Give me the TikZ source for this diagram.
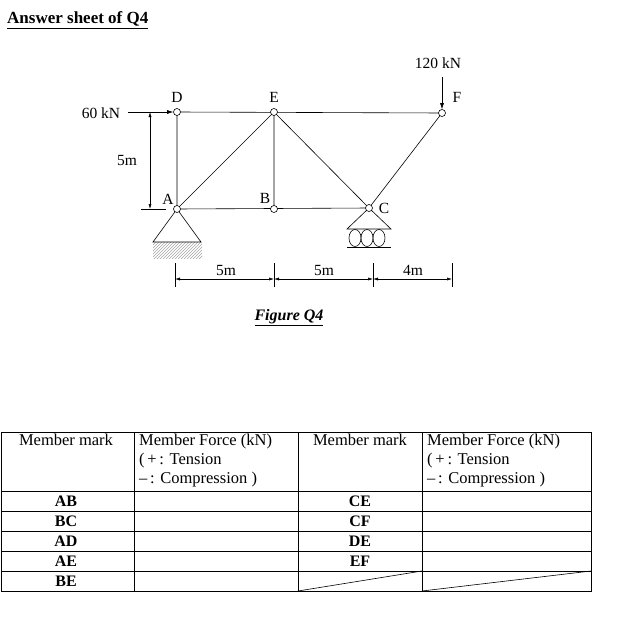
\documentclass[tikz,border=0pt]{standalone}
\usepackage{fontspec}
\setmainfont{Liberation Serif}
\usetikzlibrary{patterns,arrows.meta}
\begin{document}
\begin{tikzpicture}[x=1pt,y=-1pt,font=\fontsize{15.5}{18}\selectfont,
  mem/.style={line width=0.6pt},
  joint/.style={circle,draw,fill=white,inner sep=0pt,minimum size=7pt,line width=0.6pt},
  dim/.style={line width=0.5pt},
  arr/.style={-{Latex[length=6pt,width=4pt]},line width=0.6pt},
  lbl/.style={inner sep=0pt},
  cell/.style={inner sep=0pt,font=\fontsize{16.5}{19}\selectfont}]
\useasboundingbox (0,0) rectangle (618,626);
\node[lbl,anchor=west,font=\bfseries\fontsize{17}{19}\selectfont] (title) at (7,20) {\underline{Answer sheet of Q4}};
\coordinate (A) at (177,209); \coordinate (B) at (274,209); \coordinate (C) at (369,208);
\coordinate (D) at (177,112); \coordinate (E) at (274,112); \coordinate (F) at (442,113);
% supports
\fill[pattern=north east lines,pattern color=gray!70] (153,242) rectangle (202,258);
\draw[mem] (A) -- (153,242) -- (201,242) -- cycle;
\draw[mem] (C) -- (347,229) -- (391,229) -- cycle;
\foreach \x in {355,367,379} \draw[mem] (\x,238) ellipse (6 and 8.5);
\draw[mem] (347,247) -- (391,247);
% members
\draw[mem] (D) -- (F) (A) -- (C) (A) -- (D) (A) -- (E) (E) -- (B) (E) -- (C) (C) -- (F);
\foreach \p in {A,B,C,D,E,F} \node[joint] (j\p) at (\p) {};
\node[lbl] (lD) at (177,97) {D}; \node[lbl] (lE) at (274,97) {E}; \node[lbl] (lF) at (457,97) {F};
\node[lbl] (lA) at (168,199) {A}; \node[lbl] (lB) at (265,198) {B}; \node[lbl] (lC) at (384,208) {C};
% loads
\node[lbl] (l60) at (101,113) {60 kN};
\coordinate (s60) at (128,112);
\draw[arr] (s60) -- (jD);
\node[lbl] (l120) at (438,63) {120 kN};
\coordinate (s120) at (442,77);
\draw[arr] (s120) -- (jF);
% left dimension
\draw[dim] (141,209) -- (166,209);
\draw[dim,{Latex[length=5pt,width=3pt]}-{Latex[length=5pt,width=3pt]}] (150,112) -- (150,209);
\node[lbl] (l5v) at (127,160) {5m};
% bottom dimensions
\foreach \x in {175,274,373,452} \draw[dim] (\x,263) -- (\x,287);
\draw[dim,{Latex[length=5pt,width=3pt]}-{Latex[length=5pt,width=3pt]}] (175,279) -- (274,279);
\draw[dim,{Latex[length=5pt,width=3pt]}-{Latex[length=5pt,width=3pt]}] (274,279) -- (373,279);
\draw[dim,{Latex[length=5pt,width=3pt]}-{Latex[length=5pt,width=3pt]}] (373,279) -- (452,279);
\node[lbl] (d1) at (226,270) {5m}; \node[lbl] (d2) at (324,270) {5m}; \node[lbl] (d3) at (413,270) {4m};
\node[lbl,font=\bfseries\itshape\fontsize{16}{18}\selectfont] (fig) at (289,318) {\underline{Figure Q4}};
% table
\draw[line width=0.6pt] (1,432) rectangle (591,591);
\foreach \x in {134,298,422} \draw[line width=0.6pt] (\x,432) -- (\x,591);
\foreach \y in {491,511,531,551,571} \draw[line width=0.6pt] (1,\y) -- (591,\y);
\draw[line width=0.6pt] (298,591) -- (422,571);
\draw[line width=0.6pt] (422,591) -- (591,571);
\node[cell,anchor=north] (h1) at (66,434) {Member mark};
\node[cell,anchor=north] (h3) at (360,434) {Member mark};
\node[cell,anchor=north west,align=left] (h2) at (139,434) {Member Force (kN)\\(\,+\,: Tension\\–\,: Compression )};
\node[cell,anchor=north west,align=left] (h4) at (427,434) {Member Force (kN)\\(\,+\,: Tension\\–\,: Compression )};
\foreach \t/\y in {AB/501,BC/521,AD/541,AE/561,BE/581} \node[cell,font=\bfseries\fontsize{16}{18}\selectfont] (c\t) at (66,\y) {\t};
\foreach \t/\y in {CE/501,CF/521,DE/541,EF/561} \node[cell,font=\bfseries\fontsize{16}{18}\selectfont] (c\t) at (360,\y) {\t};
\end{tikzpicture}
\end{document}
